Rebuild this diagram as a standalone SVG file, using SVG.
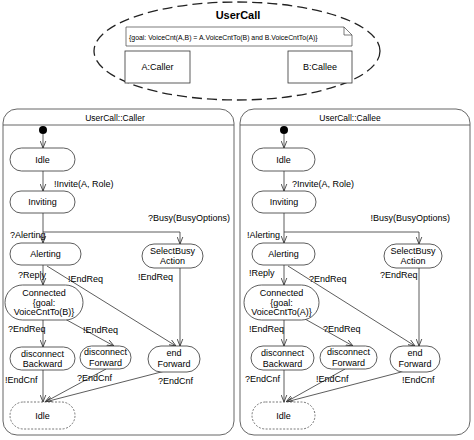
<svg xmlns="http://www.w3.org/2000/svg" width="474" height="440" viewBox="0 0 474 440">
<defs>
<marker id="arr" viewBox="0 0 10 10" refX="10" refY="5" markerWidth="7" markerHeight="7" orient="auto" markerUnits="userSpaceOnUse">
<path d="M0,1 L10,5 L0,9" fill="none" stroke="#333" stroke-width="1.2"/>
</marker>
<style>
text{font-family:"Liberation Sans",Arial,sans-serif;font-size:9px;fill:#000}
.c{text-anchor:middle}
.e{text-anchor:end}
.n{fill:#fff;stroke:#333;stroke-width:0.8}
.f{fill:#fff;stroke:#555;stroke-width:0.9}
.d{fill:#fff;stroke:#555;stroke-width:0.8;stroke-dasharray:2 1.5}
.l{fill:none;stroke:#333;stroke-width:0.8;marker-end:url(#arr)}
.h{font-size:8.5px}
</style>
</defs>
<rect width="474" height="440" fill="#fff"/>
<g id="usercall">
<ellipse cx="237" cy="51" rx="143" ry="49" fill="none" stroke="#222" stroke-width="1.3" stroke-dasharray="10 5"/>
<text x="238" y="19" class="c" style="font-weight:bold;font-size:11px">UserCall</text>
</g>
<g id="note">
<path d="M126,27 H344 L352,35 V46 H126 Z" fill="#fff" stroke="#444" stroke-width="0.7"/>
<path d="M344,27 V35 H352" fill="none" stroke="#444" stroke-width="0.7"/>
<text x="129" y="39.5" style="font-size:6.9px">{goal: VoiceCnt(A,B) = A.VoiceCntTo(B) and B.VoiceCntTo(A)}</text>
</g>
<g id="caller"><rect x="125" y="51" width="65" height="32" class="n"/><text x="157.5" y="70" class="c">A:Caller</text></g>
<g id="callee"><rect x="288" y="51" width="64" height="32" class="n"/><text x="320" y="70" class="c">B:Callee</text></g>
<g id="frameL"><rect x="3" y="109" width="231" height="326" rx="14" class="f"/><line x1="3" y1="125" x2="234" y2="125" stroke="#555" stroke-width="0.9"/><text x="115" y="121" class="c h">UserCall::Caller</text></g>
<g id="frameR"><rect x="240" y="109" width="230" height="326" rx="14" class="f"/><line x1="240" y1="125" x2="470" y2="125" stroke="#555" stroke-width="0.9"/><text x="350" y="121" class="c h">UserCall::Callee</text></g>
<g id="connectors">
<line x1="43" y1="134" x2="43" y2="148" class="l"/>
<line x1="43" y1="171" x2="43" y2="191" class="l"/>
<line x1="43" y1="213" x2="43" y2="243" class="l"/>
<path d="M43,232 H180 V244" class="l"/>
<line x1="43" y1="265" x2="43" y2="285" class="l"/>
<line x1="47" y1="266" x2="176" y2="346" class="l"/>
<line x1="180" y1="268" x2="180" y2="346" class="l"/>
<line x1="43" y1="320" x2="43" y2="347" class="l"/>
<line x1="65" y1="319" x2="114" y2="346" class="l"/>
<line x1="43" y1="370" x2="43" y2="402" class="l"/>
<line x1="106" y1="369" x2="45" y2="402" class="l"/>
<line x1="165" y1="371" x2="45" y2="402" class="l"/>
<line x1="284" y1="134" x2="284" y2="148" class="l"/>
<line x1="284" y1="171" x2="284" y2="191" class="l"/>
<line x1="284" y1="213" x2="284" y2="243" class="l"/>
<path d="M284,232 H419 V244" class="l"/>
<line x1="284" y1="265" x2="284" y2="285" class="l"/>
<line x1="288" y1="266" x2="415" y2="346" class="l"/>
<line x1="419" y1="268" x2="419" y2="346" class="l"/>
<line x1="284" y1="320" x2="284" y2="346" class="l"/>
<line x1="305" y1="319" x2="353" y2="346" class="l"/>
<line x1="284" y1="370" x2="284" y2="402" class="l"/>
<line x1="345" y1="369" x2="286" y2="402" class="l"/>
<line x1="405" y1="371" x2="286" y2="402" class="l"/>
</g>
<g id="labels">
<text x="54" y="187">!Invite(A, Role)</text>
<text x="230" y="221" class="e">?Busy(BusyOptions)</text>
<text x="10" y="238">?Alerting</text>
<text x="18" y="278">?Reply</text>
<text x="68" y="282">!EndReq</text>
<text x="138" y="280">!EndReq</text>
<text x="8" y="332">?EndReq</text>
<text x="83" y="333">!EndReq</text>
<text x="5" y="383">!EndCnf</text>
<text x="77" y="381">?EndCnf</text>
<text x="158" y="384">?EndCnf</text>
<text x="292" y="187">?Invite(A, Role)</text>
<text x="450" y="221" class="e">!Busy(BusyOptions)</text>
<text x="247" y="238">!Alerting</text>
<text x="249" y="276">!Reply</text>
<text x="309" y="282">?EndReq</text>
<text x="380" y="278">?EndReq</text>
<text x="249" y="332">!EndReq</text>
<text x="323" y="332">?EndReq</text>
<text x="245" y="382">?EndCnf</text>
<text x="316" y="382">!EndCnf</text>
<text x="402" y="383">!EndCnf</text>
</g>
<g id="L-init"><circle cx="43" cy="130" r="4" fill="#000"/></g>
<g id="L-idle"><rect x="10" y="148" width="65" height="23" rx="11.5" class="n"/><text x="42.5" y="162.5" class="c">Idle</text></g>
<g id="L-inviting"><rect x="10" y="191" width="65" height="22" rx="11" class="n"/><text x="42.5" y="205" class="c">Inviting</text></g>
<g id="L-alerting"><rect x="10" y="243" width="71" height="22" rx="11" class="n"/><text x="45.5" y="257" class="c">Alerting</text></g>
<g id="L-selectbusy"><rect x="142" y="244" width="61" height="24" rx="12" class="n"/><text x="172.5" y="254" class="c">SelectBusy</text><text x="172.5" y="264" class="c">Action</text></g>
<g id="L-connected"><rect x="5" y="285" width="78" height="35" rx="17.5" class="n"/><text x="44" y="296" class="c">Connected</text><text x="44" y="305.5" class="c">{goal:</text><text x="44" y="315" class="c">VoiceCntTo(B)}</text></g>
<g id="L-discback"><rect x="10" y="347" width="65" height="23" rx="11.5" class="n"/><text x="42.5" y="356.5" class="c">disconnect</text><text x="42.5" y="366.5" class="c">Backward</text></g>
<g id="L-discfwd"><rect x="80" y="346" width="51" height="23" rx="11.5" class="n"/><text x="105.5" y="355" class="c">disconnect</text><text x="105.5" y="365.5" class="c">Forward</text></g>
<g id="L-endfwd"><rect x="148" y="346" width="52" height="26" rx="13" class="n"/><text x="174" y="356" class="c">end</text><text x="174" y="367" class="c">Forward</text></g>
<g id="L-idle2"><rect x="10" y="402" width="65" height="27" rx="13.5" class="d"/><text x="42.5" y="418.5" class="c">Idle</text></g>
<g id="R-init"><circle cx="284" cy="130" r="4" fill="#000"/></g>
<g id="R-idle"><rect x="252" y="148" width="63" height="23" rx="11.5" class="n"/><text x="283.5" y="162.5" class="c">Idle</text></g>
<g id="R-inviting"><rect x="252" y="191" width="64" height="22" rx="11" class="n"/><text x="284" y="205" class="c">Inviting</text></g>
<g id="R-alerting"><rect x="252" y="243" width="63" height="22" rx="11" class="n"/><text x="283.5" y="257" class="c">Alerting</text></g>
<g id="R-selectbusy"><rect x="384" y="244" width="58" height="24" rx="12" class="n"/><text x="413" y="254" class="c">SelectBusy</text><text x="413" y="264" class="c">Action</text></g>
<g id="R-connected"><rect x="244" y="285" width="75" height="35" rx="17.5" class="n"/><text x="281.5" y="296" class="c">Connected</text><text x="281.5" y="305.5" class="c">{goal:</text><text x="281.5" y="315" class="c">VoiceCntTo(A)}</text></g>
<g id="R-discback"><rect x="251" y="346" width="63" height="24" rx="12" class="n"/><text x="282.5" y="356" class="c">disconnect</text><text x="282.5" y="366.5" class="c">Backward</text></g>
<g id="R-discfwd"><rect x="320" y="346" width="57" height="23" rx="11.5" class="n"/><text x="348.5" y="355" class="c">disconnect</text><text x="348.5" y="365.5" class="c">Forward</text></g>
<g id="R-endfwd"><rect x="390" y="346" width="50" height="26" rx="13" class="n"/><text x="415" y="356" class="c">end</text><text x="415" y="367" class="c">Forward</text></g>
<g id="R-idle2"><rect x="252" y="402" width="63" height="27" rx="13.5" class="d"/><text x="283.5" y="418.5" class="c">Idle</text></g>
</svg>
